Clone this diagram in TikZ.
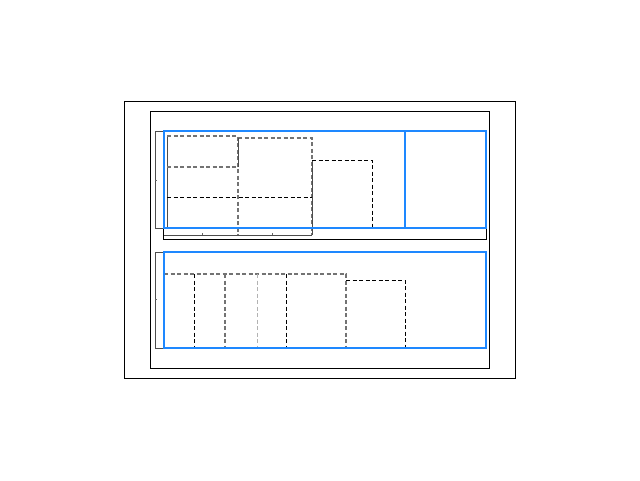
\documentclass[tikz,border=0pt]{standalone}
\definecolor{bblue}{RGB}{30,136,255}
\begin{document}
\begin{tikzpicture}[x=1pt,y=-1pt,
  frame/.style={draw=black,line width=0.9pt},
  thin/.style={draw=black!70,line width=1pt},
  bluebox/.style={draw=bblue,line width=1.8pt},
  gdash/.style={draw=black!55,line width=1.3pt,dash pattern=on 4pt off 2.5pt},
  kdash/.style={draw=black,line width=0.9pt,dash pattern=on 4pt off 2.5pt},
  ldash/.style={draw=black!30,line width=0.9pt,dash pattern=on 4pt off 2.5pt},
  tick/.style={draw=black!60,line width=0.6pt}]
\useasboundingbox (0,0) rectangle (640,480);
% frames
\draw[frame] (124,101) rectangle (515,378);
\draw[frame] (150,111) rectangle (489,368);
% top section
\draw[frame] (163,131) rectangle (486,239);
\draw[thin] (155,131) rectangle (164,228);
\draw[thin] (167,136) -- (167,228);
\draw[thin] (164,235) -- (312,235);
\draw[tick] (202,233) -- (202,235);
\draw[tick] (272,233) -- (272,235);
\draw[tick] (155,180) -- (157,180);
\draw[gdash] (167,136) -- (238,136) -- (238,235);
\draw[gdash] (167,167) -- (238,167);
\draw[gdash] (238,138) -- (312,138) -- (312,235);
\draw[thin] (238,138) -- (238,167);
\draw[thin] (312,160) -- (312,235);
\draw[kdash] (167,197) -- (312,197);
\draw[kdash] (312,160) -- (372,160) -- (372,228);
\draw[bluebox] (164,131) rectangle (486,228);
\draw[bluebox] (405,131) -- (405,228);
% bottom section
\draw[thin] (155,252) rectangle (164,348);
\draw[tick] (155,299) -- (157,299);
\draw[gdash] (164,274) -- (346,274) -- (346,348);
\draw[kdash] (194,274) -- (194,348);
\draw[gdash] (225,274) -- (225,348);
\draw[ldash] (257,274) -- (257,348);
\draw[kdash] (286,274) -- (286,348);
\draw[kdash] (346,280) -- (405,280) -- (405,348);
\draw[bluebox] (164,252) rectangle (486,348);
\end{tikzpicture}
\end{document}
